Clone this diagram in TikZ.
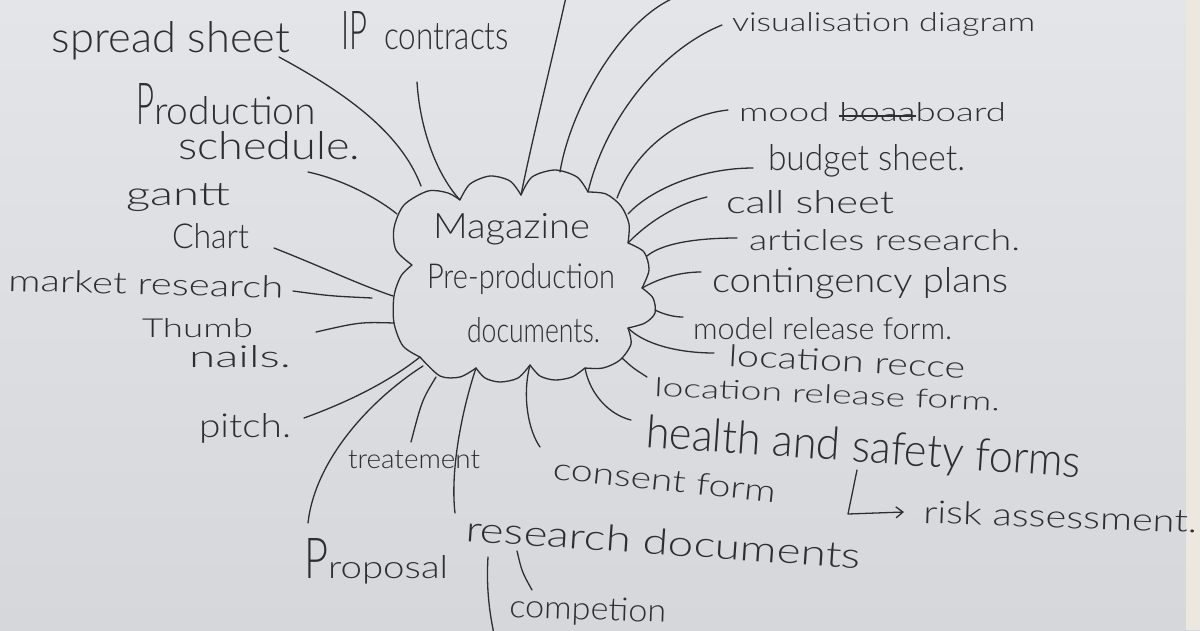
\documentclass[tikz,border=0pt]{standalone}
\usepackage{fontspec}
\setmainfont{Lato}[UprightFont={* Light}]
\usepackage{graphicx}
\usetikzlibrary{arrows.meta}
\definecolor{paperlight}{RGB}{228,229,232}
\definecolor{paperdark}{RGB}{214,215,219}
\definecolor{paperedge}{RGB}{236,232,224}
\definecolor{ink}{RGB}{45,45,52}
% width x ascender height, in px
\newcommand\hw[3]{\resizebox{#1pt}{#2pt}{#3}}
\newcommand\strk[1]{\setbox0\hbox{#1}\rlap{\rule[0.3ex]{\wd0}{0.07em}}\box0}
\begin{document}
\begin{tikzpicture}[x=1pt,y=-1pt,
  pen/.style={draw=ink, line width=1.3pt, line cap=round, line join=round},
  lab/.style={inner sep=0pt, outer sep=0pt, anchor=base west, text=ink},
]
\useasboundingbox (0,0) rectangle (1200,630);
\clip (0,0) rectangle (1200,630);
\shade[top color=paperlight, bottom color=paperdark] (0,0) rectangle (1200,630);
\fill[paperedge] (1186,0) rectangle (1200,630);

% ---------- cloud ----------
\coordinate (P1) at (460,200);
\coordinate (P2) at (521,195);
\coordinate (P3) at (588,192);
\coordinate (P4) at (628,243);
\coordinate (P5) at (642,288);
\coordinate (P6) at (628,328);
\coordinate (P7) at (585,368);
\coordinate (P8) at (530,365);
\coordinate (P9) at (476,368);
\coordinate (P10) at (420,357);
\coordinate (P11) at (412,265);
\draw[pen]
  plot[smooth] coordinates {(P1) (470,184) (490,176) (510,181) (P2)}
  plot[smooth] coordinates {(P2) (532,177) (555,170) (577,177) (P3)}
  plot[smooth] coordinates {(P3) (606,194) (621,206) (629,224) (P4)}
  plot[smooth] coordinates {(P4) (644,252) (649,270) (P5)}
  plot[smooth] coordinates {(P5) (653,298) (655,313) (645,323) (P6)}
  plot[smooth] coordinates {(P6) (631,344) (620,360) (603,368) (P7)}
  plot[smooth] coordinates {(P7) (572,377) (555,380) (540,376) (P8)}
  plot[smooth] coordinates {(P8) (518,378) (500,382) (485,378) (P9)}
  plot[smooth] coordinates {(P9) (460,377) (440,376) (P10)}
  plot[smooth] coordinates {(P10) (403,346) (394,323) (394,296) (401,276) (P11)}
  plot[smooth] coordinates {(P11) (396,250) (394,228) (404,205) (428,191) (448,193) (P1)};

\node[lab] (mg) at (433,238) {\hw{157}{25}{Magazine}};
\node[lab] (pp) at (427,288) {\hw{188}{25}{Pre-production}};
\node[lab] (dc) at (467,342) {\hw{133}{25}{documents.}};

% ---------- labels ----------
\node[lab] (ss) at (52,52) {\hw{238}{31}{spread sheet}};
\node[lab] (ip) at (341,49) {\hw{26}{38}{IP}\hspace{17pt}\hw{125}{26}{contracts}};
\node[lab] (vd) at (732,31) {\hw{303}{19}{visualisation diagram}};
\node[lab] (mb) at (739,121) {\hw{267}{19}{mood \strk{boaa} board}};
\node[lab] (bs) at (768,170) {\hw{197}{26}{budget sheet.}};
\node[lab] (cs) at (726,213) {\hw{168}{23}{call sheet}};
\node[lab] (ar) at (749,250) {\hw{271}{21}{articles research.}};
\node[lab] (cp) at (712,292) {\hw{296}{25}{contingency plans}};
\node[lab] (mr) at (693,339) {\hw{259}{22}{model release form.}};
\node[lab,rotate=-3] (lr) at (728,366) {\hw{237}{22}{location recce}};
\node[lab,rotate=-2.5] (lf) at (654,396) {\hw{346}{19}{location release form.}};
\node[lab,rotate=-4] (hs) at (645,447) {\hw{436}{33}{health and safety forms}};
\node[lab,rotate=-6] (cf) at (552,479) {\hw{224}{22}{consent form}};
\node[lab,rotate=-2] (ra) at (923,523) {\hw{274}{23}{risk assessment.}};
\node[lab,rotate=-4] (rd) at (465,541) {\hw{396}{26}{research documents}};
\node[lab,rotate=-2] (co) at (509,617) {\hw{157}{23}{competion}};
\node[lab] (pr) at (304,578) {\hw{24}{40}{P}\hw{120}{23}{roposal}};
\node[lab] (tr) at (348,468) {\hw{132}{18}{treatement}};
\node[lab] (pi) at (199,437) {\hw{92}{24}{pitch.}};
\node[lab] (th) at (142,337) {\hw{111}{19}{Thumb}};
\node[lab] (na) at (189,367) {\hw{102}{22}{nails.}};
\node[lab,rotate=-1.5] (mk) at (8,291) {\hw{275}{22}{market research}};
\node[lab] (ga) at (126,205) {\hw{104}{22}{gantt}};
\node[lab] (ch) at (172,248) {\hw{77}{25}{Chart}};
\node[lab] (pd) at (136,124) {\hw{18}{41}{P}\hw{162}{28}{roduction}};
\node[lab] (sc) at (178,159) {\hw{182}{28}{schedule.}};

% ---------- connector ends ----------
\coordinate (k1) at (421,186);  \coordinate (e1) at (279,57);
\coordinate (e2) at (417,82);
\coordinate (e3) at (566,-3);
\coordinate (k4) at (560,172);  \coordinate (e4) at (676,-3);
\coordinate (e5) at (722,25);
\coordinate (k6) at (617,198);  \coordinate (e6) at (728,110);
\coordinate (k7) at (628,214);  \coordinate (e7) at (753,168);
\coordinate (e8) at (707,197);
\coordinate (k9) at (647,256);  \coordinate (e9) at (737,238);
\coordinate (e10) at (701,272);
\coordinate (k11) at (655,310); \coordinate (e11) at (683,317);
\coordinate (e12) at (714,353);
\coordinate (k13) at (622,358); \coordinate (e13) at (647,377);
\coordinate (e14) at (631,420);
\coordinate (e15) at (540,447);
\coordinate (e16) at (455,513);
\coordinate (k17) at (436,377); \coordinate (e17) at (411,442);
\coordinate (k18) at (423,366); \coordinate (e18) at (308,523);
\coordinate (e19) at (304,418);
\coordinate (k20) at (394,323); \coordinate (e20) at (316,332);
\coordinate (k21) at (372,298); \coordinate (e21) at (293,291);
\coordinate (k22) at (397,214); \coordinate (e22) at (308,172);
\coordinate (k23) at (393,296); \coordinate (e23) at (274,248);
\coordinate (r1) at (488,557);  \coordinate (r2) at (494,634);
\coordinate (r3) at (517,551);  \coordinate (r4) at (532,590);
\coordinate (a1) at (857,470);  \coordinate (a2) at (848,514);
\coordinate (a3) at (904,512);

% ---------- connectors ----------
\draw[pen] (k1) .. controls (400,130) and (340,90) .. (e1);
\draw[pen] (P1) .. controls (437,175) and (420,130) .. (e2);
\draw[pen] (P2) .. controls (532,140) and (552,60) .. (e3);
\draw[pen] (k4) .. controls (570,110) and (620,20) .. (e4);
\draw[pen] (P3) .. controls (605,120) and (660,50) .. (e5);
\draw[pen] (k6) .. controls (635,150) and (680,115) .. (e6);
\draw[pen] (k7) .. controls (650,190) and (700,168) .. (e7);
\draw[pen] (P4) .. controls (650,220) and (680,203) .. (e8);
\draw[pen] (k9) .. controls (660,245) and (690,238) .. (e9);
\draw[pen] (P5) .. controls (660,278) and (680,272) .. (e10);
\draw[pen] (k11) .. controls (665,315) and (675,317) .. (e11);
\draw[pen] (P6) .. controls (645,345) and (680,353) .. (e12);
\draw[pen] (k13) .. controls (633,368) .. (e13);
\draw[pen] (P7) .. controls (590,395) and (610,415) .. (e14);
\draw[pen] (P8) .. controls (522,395) and (528,430) .. (e15);
\draw[pen] (P9) .. controls (462,410) and (450,470) .. (e16);
\draw[pen] (k17) .. controls (422,400) .. (e17);
\draw[pen] (k18) .. controls (370,400) and (315,460) .. (e18);
\draw[pen] (P10) .. controls (385,385) and (340,405) .. (e19);
\draw[pen] (k20) .. controls (360,322) .. (e20);
\draw[pen] (k21) .. controls (330,296) .. (e21);
\draw[pen] (k22) .. controls (380,200) and (345,180) .. (e22);
\draw[pen] (k23) .. controls (360,285) and (320,266) .. (e23);
\draw[pen] (r1) .. controls (486,590) and (490,615) .. (r2);
\draw[pen] (r3) .. controls (522,572) .. (r4);
\draw[pen,-{Straight Barb[length=7pt,width=11pt]}] (a1) -- (a2) -- (a3);
\end{tikzpicture}
\end{document}
